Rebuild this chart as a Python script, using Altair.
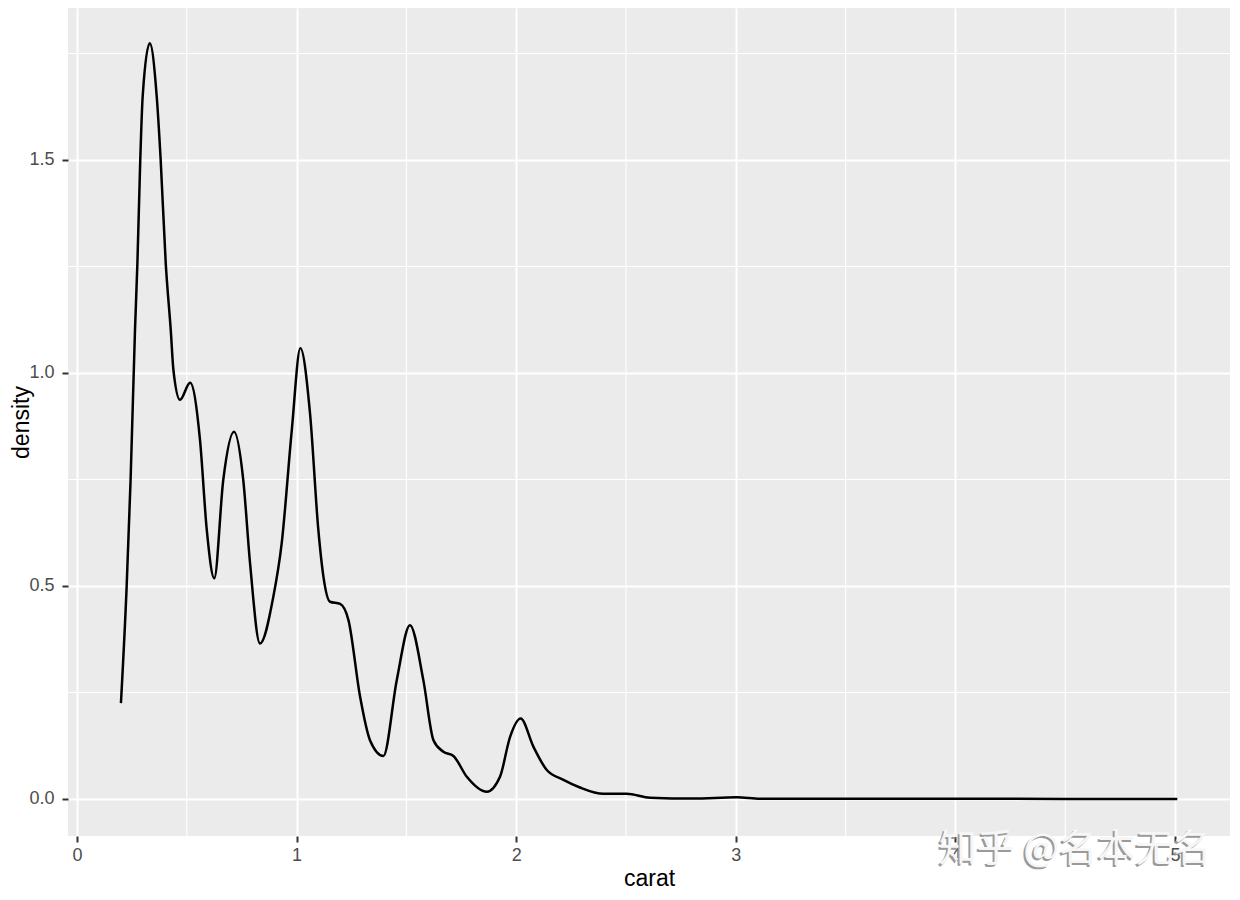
import altair as alt
import pandas as pd

# density curve
carat = [0.20, 0.226, 0.244, 0.264, 0.275, 0.288, 0.299, 0.331, 0.363, 0.381, 0.404, 0.427,
         0.439, 0.469, 0.515, 0.560, 0.591, 0.625, 0.666, 0.715, 0.757, 0.788, 0.833, 0.894,
         0.932, 0.978, 1.017, 1.061, 1.099, 1.122, 1.152, 1.198, 1.236, 1.289, 1.334, 1.395,
         1.456, 1.516, 1.577, 1.623, 1.668, 1.714, 1.775, 1.866, 1.926, 1.972, 2.020, 2.078,
         2.139, 2.215, 2.290, 2.397, 2.503, 2.609, 2.806, 3.004, 3.11, 3.5, 4.0, 4.5, 5.01]
density = [0.225, 0.498, 0.749, 1.10, 1.258, 1.5, 1.649, 1.774, 1.649, 1.5, 1.258, 1.10,
           1.007, 0.937, 0.977, 0.843, 0.631, 0.518, 0.749, 0.862, 0.749, 0.553, 0.365, 0.475,
           0.600, 0.866, 1.058, 0.905, 0.631, 0.522, 0.463, 0.458, 0.420, 0.240, 0.138, 0.101,
           0.279, 0.408, 0.279, 0.138, 0.111, 0.101, 0.052, 0.017, 0.052, 0.146, 0.189, 0.123,
           0.068, 0.045, 0.027, 0.012, 0.0125, 0.003, 0.001, 0.004, 0.0005, 0.0003, 0.0008,
           0.0002, 0.0002]

x_major = [0, 1, 2, 3, 4, 5]
y_major = [0.0, 0.5, 1.0, 1.5]
x_minor = [0.5, 1.5, 2.5, 3.5, 4.5]
y_minor = [0.25, 0.75, 1.25, 1.75]
watermark = "知乎 @名本无名"

df = pd.DataFrame({"carat": carat, "density": density})
xdom = [-0.041, 5.250]
ydom = [-0.0869, 1.8568]
xs = alt.Scale(domain=xdom, nice=False, zero=False)
ys = alt.Scale(domain=ydom, nice=False, zero=False)
xaxis = alt.Axis(values=x_major, format="d", grid=True)
yaxis = alt.Axis(values=y_major, format=".1f", grid=True)

minor_x = alt.Chart(pd.DataFrame({"carat": x_minor})).mark_rule(
    color="white", strokeWidth=1.1).encode(
    x=alt.X("carat:Q", scale=xs, title="carat", axis=xaxis))
minor_y = alt.Chart(pd.DataFrame({"density": y_minor})).mark_rule(
    color="white", strokeWidth=1.1).encode(
    y=alt.Y("density:Q", scale=ys, title="density", axis=yaxis))

line = alt.Chart(df).mark_line(color="black", strokeWidth=2.5, interpolate="monotone").encode(
    x=alt.X("carat:Q", scale=xs, title="carat", axis=xaxis),
    y=alt.Y("density:Q", scale=ys, title="density", axis=yaxis),
)

wm_df = pd.DataFrame({"t": [watermark]})
wm_shadow = alt.Chart(wm_df).mark_text(
    font="Noto Sans CJK SC", fontSize=38, color="#9a9a9a", align="center", baseline="middle"
).encode(text="t:N", x=alt.value(1005), y=alt.value(844))
wm_text = alt.Chart(wm_df).mark_text(
    font="Noto Sans CJK SC", fontSize=38, color="#f6f6f6", align="center", baseline="middle"
).encode(text="t:N", x=alt.value(1007), y=alt.value(842))

chart = alt.layer(minor_x, minor_y, line, wm_shadow, wm_text).properties(
    width=1162, height=828,
    autosize=alt.AutoSizeParams(type="none"),
    padding={"left": 60, "top": 0, "right": 2, "bottom": 54},
).configure_view(
    fill="#EBEBEB", stroke=None
).configure_axis(
    domain=False,
    gridColor="white", gridWidth=2,
    tickColor="#333333", tickWidth=2, tickSize=6,
    labelColor="#4D4D4D", labelFontSize=18, labelFont="Liberation Sans",
    titleColor="black", titleFontSize=23, titleFont="Liberation Sans", titleFontWeight="normal",
).configure_axisX(labelPadding=4, titlePadding=3).configure_axisY(
    labelPadding=8, titleX=-35, titleBaseline="bottom")

chart.save("out.html", embed_options={"renderer": "svg", "actions": False})
